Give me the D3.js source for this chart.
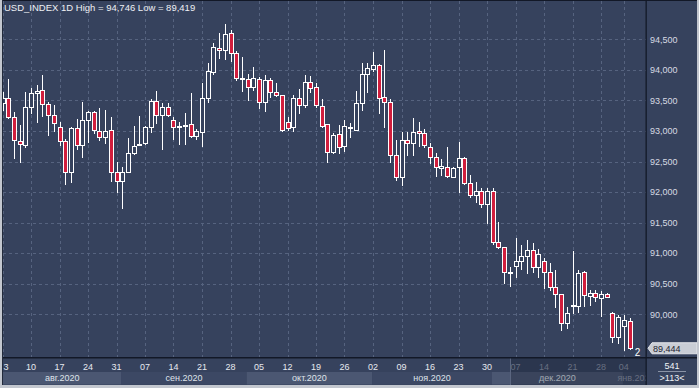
<!DOCTYPE html>
<html>
<head>
<meta charset="utf-8">
<script src="https://cdn.jsdelivr.net/npm/d3@7"></script>
<style>
  body { margin: 0; background: #36425d; }
  svg { display: block; font-family: "Liberation Sans", Arial, sans-serif; }
</style>
</head>
<body>
<svg id="chart"></svg>
<script>
// daily candles, 03.08.2020 .. 05.01.2021 (trading days only)
const opens = [93458,93540,93229,92836,92771,93392,93622,93671,93442,93262,
  93065,92836,92329,93049,92771,93180,93311,93000,92902,93016,
  92329,92182,92329,92640,92771,92804,93065,93491,93262,93392,
  93180,93065,93082,93114,92918,92983,93540,93965,94358,94325,
  94603,94276,93851,93851,93720,93851,93474,93834,93638,93589,
  93147,93065,93540,93425,93801,93720,93409,93114,92656,92951,
  92754,93049,93016,93458,93932,94014,94080,93556,93474,92607,
  92247,92853,92804,93000,92967,92738,92574,92395,92411,92247,
  92411,92558,92149,91953,92018,91806,92018,91184,91102,90693,
  90791,90873,90955,91053,90775,90873,90693,90448,90333,89859,
  90137,90137,90693,90300,90349,90268,90333,90022,89630,89810,89891];
const highs = [93638,93851,93311,93098,93638,93703,93752,93916,93474,93425,
  93147,92869,93065,93196,93474,93327,93327,93376,93343,93229,
  92493,92411,92885,93082,93245,93082,93523,93654,93458,93458,
  93229,93147,93294,93622,93033,93785,94112,94440,94603,94746,
  94652,94309,94210,93932,94047,93883,93916,93867,93785,93589,
  93229,93589,93687,93916,93900,93785,93523,93114,92967,93098,
  93180,93131,93654,94112,94112,94292,94096,94325,93523,92853,
  92983,92983,93213,93147,93033,92804,92640,92542,92738,92411,
  92820,92574,92280,92165,92067,92067,92067,91511,91102,90775,
  91249,91135,91217,91168,91069,90922,90840,90726,90333,90120,
  91037,90726,90709,90399,90399,90382,90349,90039,89990,89990,89941];
const lows = [93343,93213,92558,92493,92738,93294,93147,93245,92934,93000,
  92771,92133,92165,92705,92574,92820,92967,92853,92804,92182,
  92002,91740,92329,92624,92771,92787,92983,93131,92705,93245,
  92869,92787,92787,92902,92869,92754,93474,93932,94194,94178,
  94145,93834,93654,93507,93671,93376,93327,93556,93572,93000,
  93016,93000,93294,93392,93638,93392,93065,92493,92640,92640,
  92673,92902,93016,93343,93638,93981,93294,93065,92493,92198,
  92116,92607,92607,92754,92738,92476,92264,92280,92247,92247,
  92002,92133,91920,91838,91756,91495,91151,91086,90513,90464,
  90611,90742,90677,90693,90611,90431,90399,90120,89744,89777,
  90022,90039,90137,90153,90219,89973,90284,89548,89532,89419,89430];
const closes = [93540,93229,92853,92787,93392,93622,93654,93442,93262,93131,
  92836,92329,93049,92771,93180,93311,93016,92902,93000,92329,
  92182,92329,92640,92754,92787,93065,93491,93262,93392,93262,
  93065,93082,93098,92918,93000,93540,93981,94374,94325,94587,
  94276,93867,93867,93720,93867,93474,93834,93638,93589,93016,
  93049,93540,93425,93801,93703,93425,93082,92656,92934,92738,
  93082,93065,93458,93932,94031,94080,93540,93474,92607,92247,
  92853,92804,92983,92967,92771,92574,92411,92427,92264,92395,
  92558,92149,91953,92018,91806,92018,91184,91102,90693,90700,
  90873,90955,91053,90775,90988,90693,90448,90333,89859,90022,
  90145,90677,90317,90349,90284,90333,90284,89630,89957,89908,89444];

// x axis: day ticks (index of the trading day) and month bands
const tickIdx = [0,5,10,15,20,25,30,35,40,45,50,55,60,65,70,75,80,85,90,95,100,105,109];
const tickLabels = ["3","10","17","24","31","07","14","21","28","05","12","19","26",
  "02","09","16","23","30","07","14","21","28","04"];
const monthNames = ["авг.2020","сен.2020","окт.2020","ноя.2020","дек.2020","янв.2021"];
const monthStart = [0,21,43,65,86,109];

const priceTicks = [90000,90500,91000,91500,92000,92500,93000,93500,94000,94500];
const lastPrice = 89444;

const W = 699, H = 388;
const plotL = 3, plotR = 646, plotT = 1, axisY = 358;
const dimFrom = 510;

const bg = '#36425d', grid = '#56637f', red = '#d11e3d', dark = '#121827';
const fmt = d3.format(',');

const svg = d3.select('#chart').attr('width', W).attr('height', H);

const x = d3.scaleLinear().domain([0, 110]).range([2.5, 629.5]);
const y = d3.scaleLinear().domain([90000, 94500]).range([314.3, 39.3]);
const step = x(1) - x(0);
const px = v => Math.round(v) + 0.5;

svg.append('rect').attr('width', W).attr('height', H).attr('fill', bg);

svg.append('clipPath').attr('id', 'plotclip')
  .append('rect').attr('x', plotL).attr('y', plotT)
  .attr('width', plotR - plotL).attr('height', axisY - plotT);

const plot = svg.append('g').attr('clip-path', 'url(#plotclip)');

// grid
plot.selectAll('.hg').data(priceTicks).join('line')
  .attr('x1', plotL).attr('x2', plotR)
  .attr('y1', d => px(y(d))).attr('y2', d => px(y(d)))
  .attr('stroke', grid).attr('stroke-dasharray', '3,3');
plot.selectAll('.vg').data(tickIdx).join('line')
  .attr('x1', d => px(x(d))).attr('x2', d => px(x(d)))
  .attr('y1', plotT).attr('y2', axisY)
  .attr('stroke', grid).attr('stroke-dasharray', '3,3');

// candles
const candles = opens.map((o, i) => ({ i, o, h: highs[i], l: lows[i], c: closes[i] }));
const cg = plot.selectAll('.candle').data(candles).join('g');
cg.append('line')
  .attr('x1', d => px(x(d.i))).attr('x2', d => px(x(d.i)))
  .attr('y1', d => Math.round(y(d.h))).attr('y2', d => Math.round(y(d.l)) + 1)
  .attr('stroke', '#fff');
cg.append('rect')
  .attr('x', d => Math.round(x(d.i)) - 2 + 0.5)
  .attr('width', 4)
  .attr('y', d => Math.round(y(Math.max(d.o, d.c))) + 0.5)
  .attr('height', d => Math.max(1, Math.round(y(Math.min(d.o, d.c))) - Math.round(y(Math.max(d.o, d.c)))))
  .attr('fill', d => d.c < d.o ? red : bg)
  .attr('stroke', '#fff');

// marker near the last candle
svg.append('text').attr('x', 637.5).attr('y', 356).attr('text-anchor', 'middle')
  .attr('fill', '#fff').attr('font-size', 10).text('2');

// title
svg.append('text').attr('x', 4).attr('y', 10.5).attr('fill', '#eef0f4')
  .attr('font-size', 9.5)
  .text('USD_INDEX 1D High = ' + fmt(d3.max(highs)) + ' Low = ' + fmt(d3.min(lows)));

// right price axis
svg.selectAll('.yl').data(priceTicks).join('text')
  .attr('x', 650).attr('y', d => y(d) + 3.3)
  .attr('fill', '#d6dae3').attr('font-size', 9)
  .text(d => fmt(d));

// last price tag
const ly = y(lastPrice);
svg.append('path')
  .attr('d', `M648,${ly} L652,${ly - 5.5} L697,${ly - 5.5} L697,${ly + 5.5} L652,${ly + 5.5} Z`)
  .attr('fill', '#c9cdd5').attr('stroke', '#e4e6ea');
svg.append('text').attr('x', 653).attr('y', ly + 3.3)
  .attr('fill', '#1d2230').attr('font-size', 9).text(fmt(lastPrice));

// time axis
const ax = svg.append('g');
ax.append('clipPath').attr('id', 'axclip')
  .append('rect').attr('x', plotL).attr('y', axisY).attr('width', plotR - plotL).attr('height', 30);
const axg = ax.append('g').attr('clip-path', 'url(#axclip)');

const bandEdge = i => x(monthStart[i]) - step / 2 + 2;
const bands = monthNames.map((m, i) => ({
  name: m,
  x0: i === 0 ? plotL : bandEdge(i),
  x1: i === monthNames.length - 1 ? plotR : bandEdge(i + 1),
  k: i
}));
axg.selectAll('.band').data(bands).join('rect')
  .attr('x', d => d.x0).attr('width', d => d.x1 - d.x0)
  .attr('y', 372).attr('height', 12.5)
  .attr('fill', d => d.k % 2 === 0 ? '#4b5772' : '#3c4864');
axg.selectAll('.mlab').data(bands).join('text')
  .attr('x', d => (d.x0 + d.x1) / 2 + (d.k === monthNames.length - 1 ? 1.5 : 0))
  .attr('y', 380.5).attr('text-anchor', 'middle')
  .attr('fill', d => d.x0 > dimFrom ? '#8a93a6' : '#dfe3ea').attr('font-size', 9)
  .text(d => d.name);
axg.selectAll('.dlab').data(tickIdx).join('text')
  .attr('x', (d, i) => i === 0 ? plotL + 0.5 : x(d)).attr('y', 369.5)
  .attr('text-anchor', (d, i) => i === 0 ? 'start' : 'middle')
  .attr('fill', d => x(d) > dimFrom ? '#8a93a6' : '#e6e9ef').attr('font-size', 9)
  .text((d, i) => tickLabels[i]);
// the darker part of the time scale
axg.append('rect').attr('x', dimFrom).attr('y', axisY).attr('width', plotR - dimFrom).attr('height', 27)
  .attr('fill', '#141a2a').attr('opacity', 0.3);
axg.append('line').attr('x1', dimFrom + 0.5).attr('x2', dimFrom + 0.5)
  .attr('y1', axisY).attr('y2', 385).attr('stroke', '#5b6680');

// bottom right counter
svg.append('text').attr('x', 672).attr('y', 368.8).attr('text-anchor', 'middle')
  .attr('fill', '#f0f2f5').attr('font-size', 9).text('541');
svg.append('line').attr('x1', 658).attr('x2', 686).attr('y1', 371.5).attr('y2', 371.5)
  .attr('stroke', '#8a93a6');
svg.append('text').attr('x', 672).attr('y', 380.8).attr('text-anchor', 'middle')
  .attr('fill', '#f0f2f5').attr('font-size', 9).text('>113<');

// frame
svg.append('rect').attr('x', 0).attr('y', 0).attr('width', W).attr('height', 1).attr('fill', dark);
svg.append('rect').attr('x', 0).attr('y', axisY - 1).attr('width', W).attr('height', 1.5).attr('fill', dark);
svg.append('rect').attr('x', plotR - 0.5).attr('y', 0).attr('width', 1.3).attr('height', 385).attr('fill', dark);
svg.append('rect').attr('x', 0).attr('y', 0).attr('width', 2).attr('height', H).attr('fill', '#c3c7cf');
svg.append('rect').attr('x', 2).attr('y', 0).attr('width', 1).attr('height', 385).attr('fill', '#222a3b');
svg.append('rect').attr('x', 697).attr('y', 0).attr('width', 2).attr('height', H).attr('fill', '#c3c7cf');
svg.append('rect').attr('x', 0).attr('y', 385).attr('width', W).attr('height', 3).attr('fill', '#c3c7cf');
</script>
</body>
</html>
